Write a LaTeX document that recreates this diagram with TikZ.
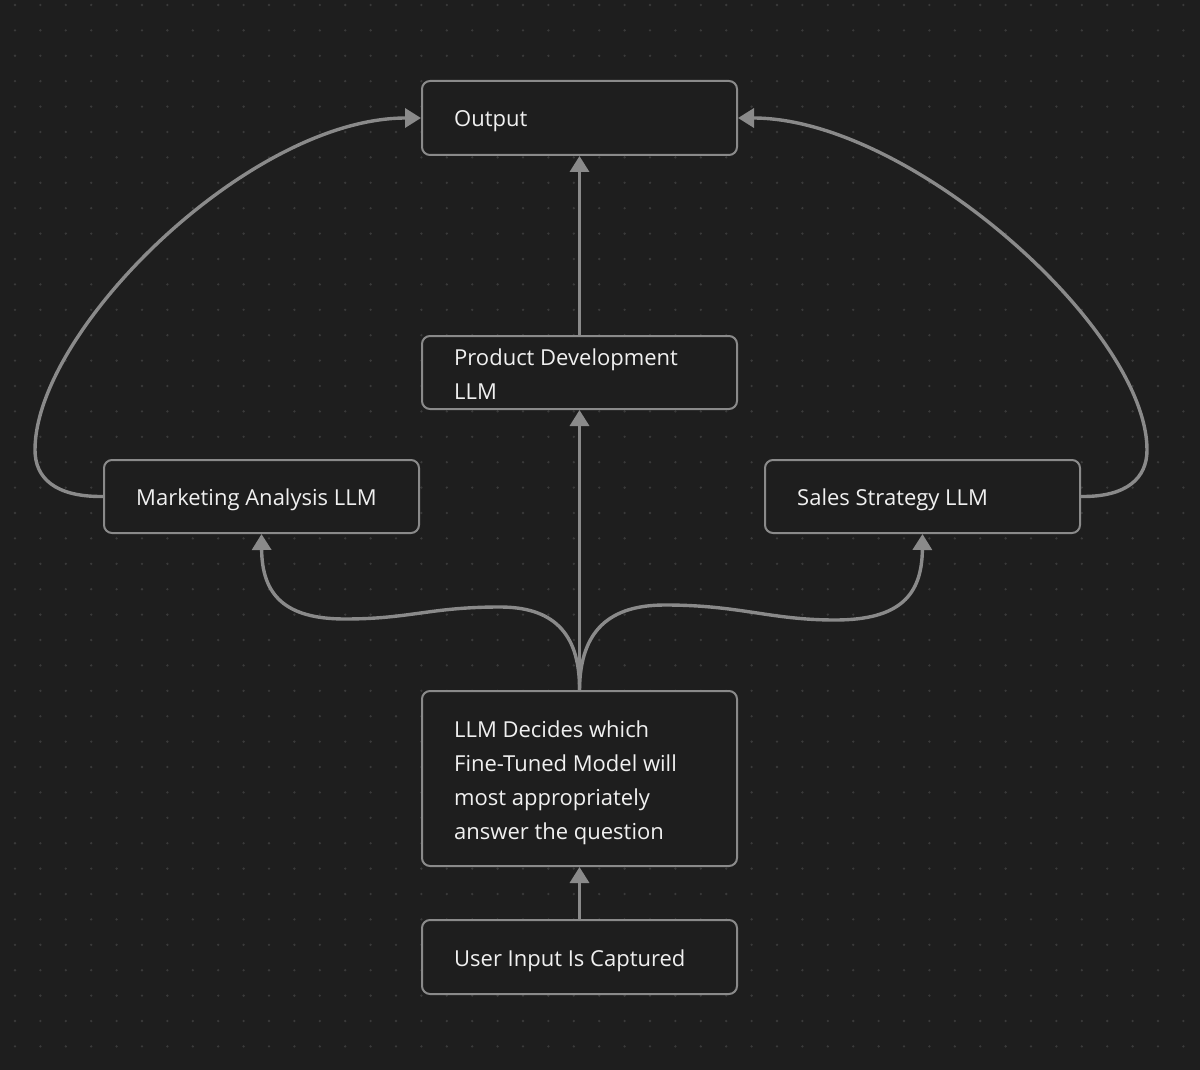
\documentclass[tikz,border=0pt]{standalone}
\usepackage{fontspec}
\setmainfont{Open Sans}
\usetikzlibrary{arrows.meta}
\definecolor{bg}{HTML}{1E1E1E}
\definecolor{boxfill}{HTML}{1E1E1E}
\definecolor{edgec}{HTML}{8A8A8A}
\definecolor{dotc}{HTML}{3A3A3A}
\definecolor{txt}{HTML}{F0F0F0}
\tikzset{
  box/.style={draw=edgec, line width=2pt, fill=boxfill, rounded corners=8pt, minimum width=315pt, inner sep=0pt},
  lbl/.style={anchor=west, text=txt, align=left, inner sep=0pt, font=\fontsize{22}{34}\selectfont},
  conn/.style={draw=edgec, line width=3.4pt, -{Triangle[length=16pt,width=19pt]}},
}
\begin{document}
\begin{tikzpicture}[x=1pt,y=-1pt]
\fill[bg] (0,0) rectangle (1200,1070);
\useasboundingbox (0,0) rectangle (1200,1070);
\foreach \i in {0,...,46}{
  \foreach \j in {0,...,41}{
    \fill[dotc] ({15+25.4*\i},{5+25.4*\j}) circle (1.3pt);
  }
}
% boxes
\node[box, minimum height=74pt] (out) at (579.5,118) {};
\node[box, minimum height=73pt] (prod) at (579.5,372.5) {};
\node[box, minimum height=73pt] (mkt) at (261.5,496.5) {};
\node[box, minimum height=73pt] (sales) at (922.5,496.5) {};
\node[box, minimum height=175pt] (dec) at (579.5,778.5) {};
\node[box, minimum height=74pt] (user) at (579.5,957) {};
% labels
\node[lbl] (tout) at (454,121.5) {Output};
\node[lbl] (tprod) at (454,374.5) {Product Development\\LLM};
\node[lbl] (tmkt) at (136,499.5) {Marketing Analysis LLM};
\node[lbl] (tsales) at (797,499.5) {Sales Strategy LLM};
\node[lbl] (tdec) at (454,782.5) {LLM Decides which\\Fine-Tuned Model will\\most appropriately\\answer the question};
\node[lbl] (tuser) at (454,960.5) {User Input Is Captured};
% connectors
\draw[conn] (user.north) -- (dec.south);
\draw[conn] (dec.north) -- (prod.south);
\draw[conn] (prod.north) -- (out.south);
\draw[conn] (dec.north) .. controls (580,630) and (550,607) .. (500,607)
  .. controls (430,607) and (410,619) .. (345,619)
  .. controls (285,619) and (262,595) .. (mkt.south);
\draw[conn] (dec.north) .. controls (580,630) and (610,605) .. (665,605)
  .. controls (740,605) and (770,620) .. (835,620)
  .. controls (900,620) and (922,595) .. (sales.south);
\draw[conn] (mkt.west) .. controls (55,497) and (35,478) .. (35,450)
  .. controls (35,330) and (250,118) .. (out.west);
\draw[conn] (sales.east) .. controls (1127,497) and (1147,478) .. (1147,450)
  .. controls (1147,330) and (910,118) .. (out.east);
\end{tikzpicture}
\end{document}
